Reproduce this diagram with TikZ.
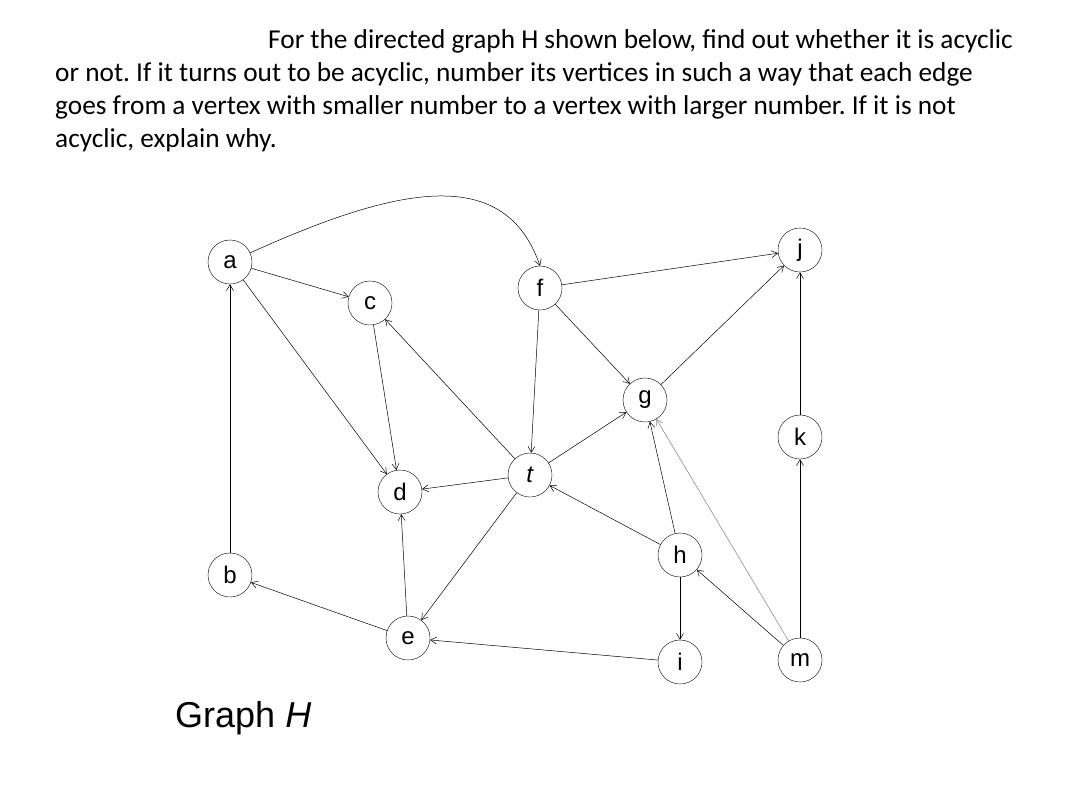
\documentclass[tikz,border=0pt]{standalone}
\usepackage{fontspec}
\setmainfont{Carlito}
\newfontfamily\arialf{Liberation Sans}
\usetikzlibrary{arrows.meta}
\frenchspacing
\begin{document}
\begin{tikzpicture}[x=1pt,y=-1pt,
  vx/.style={circle,draw,thin,minimum size=44pt,inner sep=0pt,font=\arialf\fontsize{24}{26}\selectfont},
  ed/.style={draw,line width=0.5pt,-{Straight Barb[length=6pt,width=7pt]}},
  ln/.style={anchor=base west,font=\fontsize{27.3}{30}\selectfont,inner sep=0pt}]
\useasboundingbox (0,0) rectangle (1088,788);
\node[ln] (l1) at (268,48) {For the directed graph H shown below, find out whether it is acyclic};
\node[ln] (l2) at (55,81) {or not. If it turns out to be acyclic, number its vertices in such a way that each edge};
\node[ln] (l3) at (55,114) {goes from a vertex with smaller number to a vertex with larger number. If it is not};
\node[ln] (l4) at (55,147) {acyclic, explain why.};
\node[anchor=base west,inner sep=0pt,font=\arialf\fontsize{36}{40}\selectfont] (gh) at (175,727) {Graph \textit{H}};
\node[vx] (a) at (230,262) {a};
\node[vx] (b) at (230,575) {b};
\node[vx] (c) at (370,303) {c};
\node[vx] (d) at (400,492) {d};
\node[vx] (e) at (408,638) {e};
\node[vx] (f) at (540,288) {f};
\node[vx] (t) at (530,475) {\textit{t}};
\node[vx] (g) at (645,400) {g};
\node[vx] (h) at (680,555) {h};
\node[vx] (i) at (680,662) {i};
\node[vx] (j) at (800,250) {j};
\node[vx] (k) at (800,437) {k};
\node[vx] (m) at (800,660) {m};
\path[ed] (a) .. controls (400,185) and (505,165) .. (f.north);
\path[ed] (a) -- (c);
\path[ed] (a) -- (d);
\path[ed] (b) -- (a);
\path[ed] (c) -- (d);
\path[ed] (t) -- (c);
\path[ed] (f) -- (t);
\path[ed] (f) -- (g);
\path[ed] (f) -- (j);
\path[ed] (g) -- (j);
\path[ed] (t) -- (d);
\path[ed] (t) -- (g);
\path[ed] (t) -- (e);
\path[ed] (e) -- (d);
\path[ed] (e) -- (b);
\path[ed] (h) -- (t);
\path[ed] (h) -- (g);
\path[ed] (h) -- (i);
\path[ed] (i) -- (e);
\path[ed] (m) -- (h);
\path[ed,draw=gray] (m) -- (g);
\path[ed] (m) -- (k);
\path[ed] (k) -- (j);
\end{tikzpicture}
\end{document}
